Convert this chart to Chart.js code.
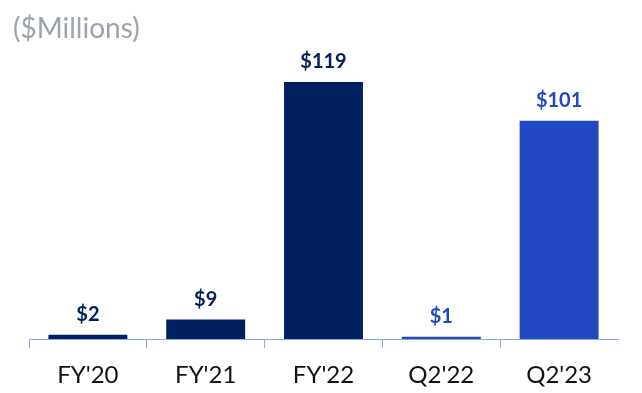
<!DOCTYPE html>
<html>
<head>
<meta charset="utf-8">
<script src="https://cdn.jsdelivr.net/npm/chart.js@4"></script>
<style>
  html, body { margin: 0; padding: 0; background: #fff; }
  #wrap { position: relative; width: 642px; height: 393px; }
</style>
</head>
<body>
<div id="wrap"><canvas id="chart"></canvas></div>
<script>
const categories = ["FY'20", "FY'21", "FY'22", "Q2'22", "Q2'23"];
const values = [2, 9, 119, 1, 101];
const valueLabels = ['$2', '$9', '$119', '$1', '$101'];
const barColors = ['#002060', '#002060', '#002060', '#1f48c2', '#1f48c2'];

const AXIS_COLOR = '#8eaadb';

// value labels above each bar, same colour as the bar
const valueLabelPlugin = {
  id: 'valueLabels',
  afterDatasetsDraw(chart) {
    const ctx = chart.ctx;
    const meta = chart.getDatasetMeta(0);
    ctx.save();
    ctx.font = 'bold 20px Lato';
    ctx.textAlign = 'center';
    ctx.textBaseline = 'alphabetic';
    meta.data.forEach((bar, i) => {
      ctx.fillStyle = barColors[i];
      ctx.fillText(valueLabels[i], bar.x, bar.y - 14);
    });
    ctx.restore();
  },
};

const ctx = document.getElementById('chart').getContext('2d');
new Chart(ctx, {
  type: 'bar',
  data: {
    labels: categories,
    datasets: [
      {
        data: values,
        backgroundColor: barColors,
        barPercentage: 0.67,
        categoryPercentage: 1,
      },
    ],
  },
  options: {
    responsive: true,
    maintainAspectRatio: false,
    animation: false,
    layout: { padding: { left: 13, right: 24, top: 0, bottom: 3 } },
    plugins: {
      legend: { display: false },
      tooltip: { enabled: false },
      title: {
        display: true,
        text: '($Millions)',
        align: 'start',
        color: '#9da3ab',
        font: { family: 'Lato', size: 28, weight: 'normal' },
        padding: { top: 12, bottom: 4 },
      },
    },
    scales: {
      x: {
        offset: true,
        grid: {
          offset: true,
          drawOnChartArea: false,
          drawTicks: true,
          tickLength: 9,
          color: (c) => (c.type === 'tick' ? AXIS_COLOR : 'transparent'),
        },
        border: { display: true, color: AXIS_COLOR, width: 1 },
        ticks: {
          color: '#111',
          padding: 13,
          font: { family: 'Lato', size: 24 },
        },
        afterFit: (s) => { s.height = 51; },
      },
      y: {
        min: 0,
        max: 134,
        grid: { display: false },
        border: { display: false },
        ticks: { display: false },
        afterFit: (s) => { s.width = 16; },
      },
    },
  },
  plugins: [valueLabelPlugin],
});
</script>
</body>
</html>
